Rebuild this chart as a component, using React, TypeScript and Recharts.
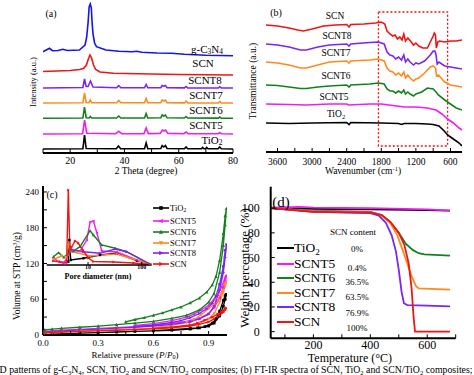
import React from 'react';
import { LineChart, Line, XAxis, YAxis, ReferenceArea } from 'recharts';

const FONT = '"Liberation Serif", "Times New Roman", serif';
const COL = {
  black: '#000000', magenta: '#f21cf2', green: '#14801c', orange: '#ff8a1c',
  purple: '#7b25f2', red: '#f21414', blue: '#1414f0',
};
type P = [number, number][];

// ---------- (a) XRD ----------
const xrdTicks = [10, 20, 30, 40, 50, 60, 70, 80];
const xrdTiO2: P = [[10,4],[24.7,4.3],[25.3,18],[25.9,4.5],[37,4.2],[37.8,7],[38.6,4.2],[47.4,4.2],[48,10],[48.6,4.2],[53.4,4.5],[53.9,7.5],[54.5,6],[55.1,7.5],[55.7,4.5],[62.1,4.2],[62.7,6],[63.3,4.2],[68.4,4.2],[68.8,5.5],[69.3,4.2],[69.9,4.2],[70.3,5.5],[70.8,4.2],[74.5,4.2],[75.1,6],[75.7,4.2],[80,4]];
const xrdSCNT5: P = [[10,19],[24.6,19.3],[25.3,33],[26.1,19.8],[36.8,19.3],[37.9,21.8],[39,19.3],[47.2,19.4],[48,25],[48.8,19.4],[53.2,19.6],[54,23],[54.6,22],[55.2,23],[56,19.6],[61.9,19.3],[62.7,21],[63.5,19.3],[74.5,19.2],[75.1,20.5],[75.8,19.2],[80,19]];
const xrdSCNT6: P = [[10,34.7],[24.7,35],[25.3,46],[25.9,35.3],[27,35],[27.4,36.5],[27.9,35],[37.1,35],[37.9,37],[38.7,35],[47.4,35],[48,39.5],[48.6,35],[53.4,35.2],[53.9,38],[54.5,37],[55.1,38],[55.7,35.2],[62.1,35],[62.7,36.5],[63.3,35],[74.6,34.9],[75.1,36],[75.7,34.9],[80,34.7]];
const xrdSCNT7: P = [[10,50],[24.7,50.3],[25.3,60],[25.9,50.5],[26.9,50.3],[27.4,53],[27.9,50.3],[37.1,50.2],[37.9,52.5],[38.7,50.2],[47.4,50.2],[48,54.5],[48.6,50.2],[53.4,50.3],[53.9,53],[54.5,52],[55.1,53],[55.7,50.3],[62.1,50.1],[62.7,52],[63.3,50.1],[74.6,50],[75.1,51.5],[75.7,50],[80,50]];
const xrdSCNT8: P = [[10,65],[24.7,65.5],[25.3,74],[25.9,66.5],[26.6,66.5],[27.5,72],[28.4,66],[37.1,65.2],[37.9,67.3],[38.7,65.2],[47.4,65.2],[48,68.5],[48.6,65.2],[53.4,65.3],[53.9,67.5],[54.5,66.8],[55.1,67.5],[55.7,65.3],[62.1,65.1],[62.7,66.5],[63.3,65.1],[74.6,65],[75.1,66.3],[75.7,65],[80,65]];
const xrdSCN: P = [[10,81.5],[15,82],[20,82.5],[23.5,83.5],[25,84.7],[26,88],[26.7,94],[27.3,98],[27.9,95],[28.6,88],[29.4,83.5],[31,81],[36,79.8],[45,79.2],[60,78.5],[80,78]];
const xrdGCN: P = [[10,101.3],[12.4,104.7],[13.5,102.3],[15.5,102.5],[17.3,103.7],[19,102.5],[23.4,103],[25.5,108],[26.1,116],[26.6,130],[27,146],[27.4,149],[27.8,145],[28.1,130],[28.4,119.7],[29,110],[29.7,106.3],[33.2,103],[38,101.8],[42.8,101.3],[44.5,101.8],[46.4,100.7],[52,100],[57.3,99.7],[62.1,98.7],[70,97.8],[80,97.3]];

// ---------- (b) FT-IR ----------
const irTicks = [3600, 3300, 3000, 2700, 2400, 2100, 1800, 1500, 1200, 900, 600];
const irMajor = [3600, 3000, 2400, 1800, 1200, 600];
const irSCN: P = [[3800,127],[3600,126],[3400,124],[3250,122],[3150,121],[3000,123],[2800,126],[2600,127],[2400,127.5],[2360,125],[2330,127.5],[2100,128],[1900,129],[1800,130],[1740,128],[1700,121],[1650,118],[1600,116],[1560,117],[1520,113],[1480,115],[1440,112],[1410,118],[1380,111],[1340,114],[1310,112],[1280,110],[1240,107],[1200,109],[1150,106],[1080,104],[1000,104],[950,110],[900,116],[880,119],[860,117],[845,104],[820,110],[790,111],[700,110],[600,111],[500,111],[400,112]];
const irSCNT8: P = [[3800,108],[3600,107],[3400,105],[3200,102],[3100,102],[2900,105],[2700,107],[2400,108],[2360,106],[2330,108],[2000,109.5],[1850,110],[1750,108],[1700,100],[1650,97],[1600,96],[1550,93],[1500,95],[1450,92],[1410,97],[1380,90],[1340,93],[1300,90],[1240,87],[1200,89],[1150,88],[1050,91],[950,97],[900,101],[870,101],[850,97],[830,88],[800,90],[700,86],[600,85],[500,84],[400,83]];
const irSCNT7: P = [[3800,90],[3600,89],[3400,87],[3200,84],[3100,84],[2900,87],[2700,90],[2400,91],[2360,89],[2330,91],[2000,92],[1850,93],[1750,91],[1700,84],[1650,81],[1600,80],[1550,77],[1500,79],[1450,76],[1410,80],[1380,74],[1340,77],[1300,74],[1240,71],[1200,73],[1150,74],[1050,79],[950,85],[900,86],[860,84],[840,76],[810,77],[700,70],[600,67],[500,66],[400,65]];
const irSCNT6: P = [[3800,67],[3600,66.5],[3400,65],[3200,63.5],[3100,63.5],[2900,65],[2700,66],[2400,67],[2360,65],[2330,67],[2000,68],[1850,69],[1750,68],[1700,63],[1650,61],[1600,61],[1550,59],[1500,61],[1450,59],[1410,62],[1380,58],[1340,60],[1300,58],[1240,56],[1200,58],[1100,60],[1000,64],[900,63],[850,60],[810,57],[700,52],[600,48],[500,44],[400,42]];
const irSCNT5: P = [[3800,48],[3400,47.5],[3100,47],[2700,48],[2400,48],[2360,47],[2000,48],[1800,48],[1600,46.5],[1400,45],[1200,45],[1000,44],[850,42],[750,38],[650,33],[550,29],[450,24],[400,22]];
const irTiO2: P = [[3800,29],[3400,28.5],[3000,29],[2400,29.5],[2360,27.5],[2330,29.5],[1800,29],[1500,28.5],[1450,27.5],[1400,28.5],[1200,28.5],[1000,28],[900,27.5],[800,26],[700,20.5],[650,17],[600,15],[500,11],[450,9],[400,6]];

// ---------- (c) BET ----------
const betXTicks = [0, 0.15, 0.3, 0.45, 0.6, 0.75, 0.9];
const betXMajor = [0, 0.3, 0.6, 0.9];
const betYTicks = [0, 30, 60, 90, 120, 150, 180, 210, 240];
const betYMajor = [0, 60, 120, 180, 240];
const isoTiO2: P = [[0.01,1],[0.05,1.5],[0.1,2],[0.2,3],[0.3,4],[0.4,5],[0.5,6],[0.6,7],[0.7,8],[0.8,10],[0.85,12],[0.9,15],[0.93,20],[0.96,32],[0.98,48],[0.99,60],[0.995,68],[0.99,66],[0.98,58],[0.96,40],[0.94,27],[0.92,20],[0.88,14],[0.84,12],[0.8,11],[0.7,9],[0.6,7.5]];
const isoSCNT5: P = [[0.01,6],[0.05,7],[0.1,8],[0.2,9.5],[0.3,11],[0.4,12.5],[0.5,14],[0.6,16],[0.7,19],[0.8,24],[0.85,28],[0.9,36],[0.93,46],[0.96,62],[0.98,80],[0.99,92],[0.997,100],[0.99,97],[0.97,80],[0.95,68],[0.93,60],[0.9,50],[0.86,42],[0.82,35],[0.78,30],[0.7,24],[0.6,19],[0.5,16]];
const isoSCNT6: P = [[0.01,8.5],[0.05,10],[0.1,11],[0.2,13],[0.3,15],[0.4,17.5],[0.5,20],[0.6,23],[0.7,28],[0.78,33],[0.85,42],[0.9,55],[0.93,70],[0.96,105],[0.98,150],[0.99,185],[0.997,212],[0.99,200],[0.98,170],[0.96,125],[0.94,98],[0.92,84],[0.89,72],[0.85,62],[0.8,54],[0.75,47],[0.7,42],[0.65,37],[0.6,33],[0.55,29],[0.5,26],[0.45,22]];
const isoSCNT7: P = [[0.01,3],[0.05,4],[0.1,5],[0.2,6.5],[0.3,8],[0.4,9],[0.5,10],[0.6,11.5],[0.7,13],[0.8,16],[0.85,20],[0.9,27],[0.93,36],[0.96,55],[0.98,72],[0.99,82],[0.997,88],[0.99,86],[0.97,70],[0.95,60],[0.93,52],[0.9,44],[0.86,34],[0.82,26],[0.78,21],[0.7,16],[0.6,12.5]];
const isoSCNT8: P = [[0.01,5],[0.05,6],[0.1,7],[0.2,8.5],[0.3,10],[0.4,11.5],[0.5,13],[0.6,15],[0.7,18],[0.8,22],[0.85,27],[0.9,35],[0.93,48],[0.96,75],[0.98,105],[0.99,130],[0.998,152],[0.99,142],[0.98,115],[0.96,85],[0.94,65],[0.92,53],[0.89,44],[0.85,36],[0.8,29],[0.75,24],[0.7,21],[0.6,17],[0.5,14]];
const isoSCN: P = [[0.01,4],[0.05,4.5],[0.1,5],[0.2,6],[0.3,7],[0.4,8],[0.5,9],[0.6,10.5],[0.7,12],[0.8,15],[0.85,18],[0.9,22],[0.93,27],[0.96,33],[0.98,38],[0.99,42],[0.997,45],[0.99,44],[0.97,39],[0.95,35],[0.92,30],[0.88,25],[0.84,20],[0.8,17],[0.7,13],[0.6,11]];
// inset: pore size distribution
const poreTicks = [10, 100];
const poreTiO2: P = [[4.29,3.3],[4.49,25],[4.76,5],[8.2,6.7],[16.7,10],[34.2,11.7],[81,4.3],[143,0.7]];
const poreSCNT5: P = [[2.26,7.3],[2.83,3.3],[3.53,1.7],[4.29,10],[4.95,15],[7.1,14],[9.46,25],[10.9,43],[12.6,44],[14.6,32],[18,14],[34.2,13],[81,5],[143,0.7]];
const poreSCNT6: P = [[2.26,8.3],[2.83,12.3],[3.53,7.7],[4.29,11.7],[5.35,14],[7.1,18.3],[10.9,34.3],[12.6,30],[18,20],[32,16.7],[52,13.3],[143,0.7]];
const poreSCNT7: P = [[2.26,5.7],[3.2,9],[3.9,7.7],[4.35,20],[4.76,13.3],[6.2,12.3],[10.9,9],[34.2,11],[143,0.7]];
const poreSCNT8: P = [[4.95,15],[8.2,13.3],[16.7,11.7],[32,16],[52,13.3],[143,1]];
const poreSCN: P = [[2.26,4],[3,3.3],[4,2.3],[4.29,75],[4.6,13],[4.95,18],[5.73,24],[6.55,22],[8,15],[10.1,7],[12.6,3.5],[30,3],[70,2],[143,0.5]];

// ---------- (d) TGA ----------
const tgaXTicks = [100, 200, 300, 400, 500, 600, 700];
const tgaXMajor = [200, 400, 600];
const tgaYTicks = [0, 20, 40, 60, 80, 100];
const tgaTiO2: P = [[50,100],[200,99.5],[400,99],[600,98.5],[680,98]];
const tgaSCNT5: P = [[50,100.5],[150,101],[200,100.5],[400,100],[600,99],[680,98]];
const tgaSCNT6: P = [[50,100],[200,98],[400,97],[440,94.5],[470,89],[500,80],[525,71],[550,66],[570,63.5],[590,62.5],[680,61.5]];
const tgaSCNT7: P = [[50,100],[200,97.5],[400,96.5],[440,94],[470,88],[495,78],[515,65],[530,55],[545,45],[560,37],[570,35],[680,34]];
const tgaSCNT8: P = [[50,100],[200,97],[400,96],[430,94],[455,88],[475,78],[490,65],[500,50],[510,32],[518,23],[530,21.5],[600,21],[680,20.5]];
const tgaSCN: P = [[50,100],[200,97],[400,96.5],[440,94.5],[470,89],[500,80],[520,70],[535,55],[545,35],[552,12],[557,0],[680,0]];
const scnContent = ['0%', '0.4%', '36.5%', '63.5%', '76.9%', '100%'];

const pts = (a: P) => a.map(([x, y]) => ({ x, y }));

const tickStyle = (size: number) => ({ fontSize: size, fill: '#000', fontFamily: FONT });
const frame = { stroke: '#000', strokeWidth: 2 };

const Sub = ({ c }: { c: string }) => (
  <span style={{ fontSize: '0.68em', verticalAlign: '-0.25em', lineHeight: 0 }}>{c}</span>
);
const Sup = ({ c }: { c: string }) => (
  <span style={{ fontSize: '0.68em', verticalAlign: '0.45em', lineHeight: 0 }}>{c}</span>
);

const Txt = ({ x, y, size, children, rot, start, bold }: any) => (
  <div
    style={{
      position: 'absolute', left: x, top: y, fontSize: size, fontFamily: FONT,
      whiteSpace: 'nowrap', lineHeight: 1, color: '#000', fontWeight: bold ? 700 : 400,
      transform: `translate(${start ? '0' : '-50%'},-50%)${rot ? ` rotate(${rot}deg)` : ''}`,
    }}
  >
    {children}
  </div>
);

const TiO2 = () => (<>TiO<Sub c="2" /></>);

const marker = (shape: string, color: string, s = 1.6) => (p: any) => {
  const { cx, cy, index } = p;
  if (cx == null || cy == null) return <g key={`n${index}`} />;
  const k = `m${index}`;
  if (shape === 'sq') return <rect key={k} x={cx - s} y={cy - s} width={2 * s} height={2 * s} fill={color} />;
  if (shape === 'up') return <path key={k} d={`M${cx},${cy - s * 1.3}L${cx + s * 1.2},${cy + s}L${cx - s * 1.2},${cy + s}Z`} fill={color} />;
  if (shape === 'down') return <path key={k} d={`M${cx},${cy + s * 1.3}L${cx + s * 1.2},${cy - s}L${cx - s * 1.2},${cy - s}Z`} fill={color} />;
  if (shape === 'left') return <path key={k} d={`M${cx - s * 1.3},${cy}L${cx + s},${cy - s * 1.2}L${cx + s},${cy + s * 1.2}Z`} fill={color} />;
  if (shape === 'right') return <path key={k} d={`M${cx + s * 1.3},${cy}L${cx - s},${cy - s * 1.2}L${cx - s},${cy + s * 1.2}Z`} fill={color} />;
  return <circle key={k} cx={cx} cy={cy} r={s} fill={color} />;
};

const xrdSeries = [
  { d: xrdTiO2, c: COL.black }, { d: xrdSCNT5, c: COL.magenta }, { d: xrdSCNT6, c: COL.green },
  { d: xrdSCNT7, c: COL.orange }, { d: xrdSCNT8, c: COL.purple }, { d: xrdSCN, c: COL.red }, { d: xrdGCN, c: COL.blue },
];
const irSeries = [
  { d: irTiO2, c: COL.black }, { d: irSCNT5, c: COL.magenta }, { d: irSCNT6, c: COL.green },
  { d: irSCNT7, c: COL.orange }, { d: irSCNT8, c: COL.purple }, { d: irSCN, c: COL.red },
];
const betSeries = [
  { d: isoTiO2, p: poreTiO2, c: COL.black, m: 'sq', n: 'TiO2' },
  { d: isoSCNT5, p: poreSCNT5, c: COL.magenta, m: 'left', n: 'SCNT5' },
  { d: isoSCNT6, p: poreSCNT6, c: COL.green, m: 'up', n: 'SCNT6' },
  { d: isoSCNT7, p: poreSCNT7, c: COL.orange, m: 'down', n: 'SCNT7' },
  { d: isoSCNT8, p: poreSCNT8, c: COL.purple, m: 'right', n: 'SCNT8' },
  { d: isoSCN, p: poreSCN, c: COL.red, m: 'right', n: 'SCN' },
];
const tgaSeries = [
  { d: tgaTiO2, c: COL.black, n: 'TiO2' }, { d: tgaSCNT5, c: COL.magenta, n: 'SCNT5' },
  { d: tgaSCNT6, c: COL.green, n: 'SCNT6' }, { d: tgaSCNT7, c: COL.orange, n: 'SCNT7' },
  { d: tgaSCNT8, c: COL.purple, n: 'SCNT8' }, { d: tgaSCN, c: COL.red, n: 'SCN' },
];

const nameNode = (n: string) => (n === 'TiO2' ? <TiO2 /> : n);

export default function App() {
  return (
    <div style={{ position: 'absolute', left: 0, top: 0, width: 474, height: 375, overflow: 'hidden', background: '#fff', fontFamily: FONT }}>
      {/* (a) */}
      <div style={{ position: 'absolute', left: 0, top: 0 }}>
        <LineChart width={240} height={180} margin={{ top: 2, right: 7, bottom: 7, left: 43 }}>
          <XAxis dataKey="x" type="number" domain={[10, 80]} ticks={xrdTicks} allowDataOverflow
            tickFormatter={(v: number) => (v % 20 === 0 ? String(v) : '')}
            height={20} tickSize={-4} tickMargin={8} axisLine={frame} tickLine={{ stroke: '#000' }} tick={tickStyle(10)} />
          <XAxis xAxisId="top" dataKey="x" orientation="top" type="number" domain={[10, 80]} height={0} tick={false} tickLine={false} axisLine={frame} />
          <YAxis type="number" domain={[0, 151]} width={0} tick={false} tickLine={false} axisLine={frame} allowDataOverflow />
          <YAxis yAxisId="r" orientation="right" type="number" domain={[0, 151]} width={0} tick={false} tickLine={false} axisLine={frame} />
          {xrdSeries.map((s, i) => (
            <Line key={i} data={pts(s.d)} dataKey="y" stroke={s.c} strokeWidth={1.6} dot={false} isAnimationActive={false} type="linear" />
          ))}
        </LineChart>
      </div>

      {/* (b) */}
      <div style={{ position: 'absolute', left: 234, top: 0 }}>
        <LineChart width={240} height={180} margin={{ top: 2, right: 12, bottom: 8, left: 32 }}>
          <XAxis dataKey="x" type="number" domain={[400, 3800]} reversed ticks={irTicks} allowDataOverflow
            tickFormatter={(v: number) => (irMajor.includes(v) ? String(v) : '')}
            height={20} tickSize={-4} tickMargin={10} axisLine={frame} tickLine={{ stroke: '#000' }} tick={tickStyle(9.5)} />
          <XAxis xAxisId="top" dataKey="x" orientation="top" type="number" domain={[400, 3800]} reversed ticks={irTicks} height={0} tick={false} tickSize={-4} tickLine={{ stroke: '#000' }} axisLine={frame} />
          <YAxis type="number" domain={[0, 150]} width={0} tick={false} tickLine={false} axisLine={frame} allowDataOverflow />
          <YAxis yAxisId="r" orientation="right" type="number" domain={[0, 150]} width={0} tick={false} tickLine={false} axisLine={frame} />
          <ReferenceArea x1={1850} x2={650} y1={6} y2={140} stroke={COL.red} strokeWidth={1.3} strokeDasharray="2 2" fill="none" fillOpacity={0} />
          {irSeries.map((s, i) => (
            <Line key={i} data={pts(s.d)} dataKey="y" stroke={s.c} strokeWidth={1.6} dot={false} isAnimationActive={false} type="linear" />
          ))}
        </LineChart>
      </div>

      {/* (c) */}
      <div style={{ position: 'absolute', left: 0, top: 180 }}>
        <LineChart width={240} height={195} margin={{ top: 6, right: 13, bottom: 15, left: 0 }}>
          <XAxis dataKey="x" type="number" domain={[0, 1]} ticks={betXTicks} allowDataOverflow
            tickFormatter={(v: number) => (betXMajor.includes(v) ? v.toFixed(1) : '')}
            height={25} tickSize={-4} tickMargin={9} axisLine={frame} tickLine={{ stroke: '#000' }} tick={tickStyle(9)} />
          <XAxis xAxisId="top" dataKey="x" orientation="top" type="number" domain={[0, 1]} height={0} tick={false} tickLine={false} axisLine={frame} />
          <YAxis type="number" domain={[0, 250]} ticks={betYTicks} width={43} allowDataOverflow interval={0}
            tickFormatter={(v: number) => (betYMajor.includes(v) ? String(v) : '')}
            tickSize={-4} tickMargin={8} axisLine={frame} tickLine={{ stroke: '#000' }} tick={tickStyle(9)} />
          <YAxis yAxisId="r" orientation="right" type="number" domain={[0, 250]} width={0} tick={false} tickLine={false} axisLine={frame} />
          {betSeries.map((s, i) => (
            <Line key={i} data={pts(s.d)} dataKey="y" stroke={s.c} strokeWidth={1.3} dot={marker(s.m, s.c, 1.4)} isAnimationActive={false} type="linear" />
          ))}
        </LineChart>
      </div>
      {/* (c) inset */}
      <div style={{ position: 'absolute', left: 40, top: 180 }}>
        <LineChart width={120} height={100} margin={{ top: 6, right: 8.3, bottom: 5, left: 6.7 }}>
          <XAxis dataKey="x" type="number" scale="log" domain={[1.7, 153]} ticks={poreTicks} allowDataOverflow
            height={10} tickSize={-3} tickMargin={3} axisLine={{ stroke: '#000', strokeWidth: 1.5 }} tickLine={{ stroke: '#000' }}
            tick={{ fontSize: 6, fill: '#000', fontFamily: FONT, fontWeight: 700 }} />
          <YAxis type="number" domain={[0, 79]} hide allowDataOverflow />
          {betSeries.map((s, i) => (
            <Line key={i} data={pts(s.p)} dataKey="y" stroke={s.c} strokeWidth={1.4} dot={marker(s.m, s.c, 1.2)} isAnimationActive={false} type="linear" />
          ))}
        </LineChart>
      </div>

      {/* (d) */}
      <div style={{ position: 'absolute', left: 234, top: 180 }}>
        <LineChart width={240} height={195} margin={{ top: 6.7, right: 18.3, bottom: 11.7, left: 0 }}>
          <XAxis dataKey="x" type="number" domain={[50, 700]} ticks={tgaXTicks} allowDataOverflow
            tickFormatter={(v: number) => (tgaXMajor.includes(v) ? String(v) : '')}
            height={25} tickSize={-4} tickMargin={6} axisLine={frame} tickLine={{ stroke: '#000' }} tick={tickStyle(12)} />
          <XAxis xAxisId="top" dataKey="x" orientation="top" type="number" domain={[50, 700]} ticks={tgaXTicks} height={0} tick={false} tickSize={-4} tickLine={{ stroke: '#000' }} axisLine={frame} />
          <YAxis type="number" domain={[-5.4, 117.4]} ticks={tgaYTicks} width={36.7} allowDataOverflow interval={0}
            tickSize={-4} tickMargin={15} axisLine={frame} tickLine={{ stroke: '#000' }} tick={tickStyle(12)} />
          <YAxis yAxisId="r" orientation="right" type="number" domain={[-5.4, 117.4]} width={0} tick={false} tickLine={false} axisLine={frame} />
          {tgaSeries.map((s, i) => (
            <Line key={i} data={pts(s.d)} dataKey="y" stroke={s.c} strokeWidth={1.8} dot={false} isAnimationActive={false} type="linear" />
          ))}
        </LineChart>
      </div>

      {/* text: (a) */}
      <Txt x={51} y={14} size={10}>(a)</Txt>
      <Txt x={207} y={49} size={11}>g-C<Sub c="3" />N<Sub c="4" /></Txt>
      <Txt x={203} y={63} size={11}>SCN</Txt>
      <Txt x={205} y={80} size={11}>SCNT8</Txt>
      <Txt x={206} y={95} size={11}>SCNT7</Txt>
      <Txt x={206} y={110} size={11}>SCNT6</Txt>
      <Txt x={206} y={125} size={11}>SCNT5</Txt>
      <Txt x={212} y={140} size={11}><TiO2 /></Txt>
      <Txt x={33} y={82} size={8.5} rot={-90}>Intensity (a.u.)</Txt>
      <Txt x={146} y={172} size={9.5}>2 Theta (degree)</Txt>

      {/* text: (b) */}
      <Txt x={276} y={13} size={10}>(b)</Txt>
      <Txt x={335} y={17} size={9.5}>SCN</Txt>
      <Txt x={337} y={37} size={9.5}>SCNT8</Txt>
      <Txt x={336} y={54} size={9.5}>SCNT7</Txt>
      <Txt x={336} y={77} size={9.5}>SCNT6</Txt>
      <Txt x={334} y={98} size={9.5}>SCNT5</Txt>
      <Txt x={336} y={115} size={9.5}><TiO2 /></Txt>
      <Txt x={254} y={81} size={9.5} rot={-90}>Transmittance (a.u.)</Txt>
      <Txt x={363} y={172} size={9.5}>Wavenumber (cm<Sup c="-1" />)</Txt>

      {/* text: (c) */}
      <Txt x={52} y={195} size={10}>(c)</Txt>
      <Txt x={18} y={276} size={9.5} rot={-90}>Volume at STP (cm<Sup c="3" />/g)</Txt>
      <Txt x={135} y={355} size={9}>Relative pressure (<i>P</i>/<i>P</i><Sub c="0" />)</Txt>
      <Txt x={98} y={276.5} size={8} bold>Pore diameter (nm)</Txt>
      {betSeries.map((s, i) => {
        const ys = [208, 221, 232, 243, 253, 264];
        return (
          <div key={i} style={{ position: 'absolute', left: 153, top: ys[i] - 4 }}>
            <svg width={17} height={8} style={{ display: 'block' }}>
              <line x1={0} y1={4} x2={16} y2={4} stroke={s.c} strokeWidth={1.6} />
              {marker(s.m, s.c, 1.8)({ cx: 8, cy: 4, index: 0 })}
            </svg>
          </div>
        );
      })}
      {betSeries.map((s, i) => {
        const ys = [208, 221, 232, 243, 253, 264];
        return <Txt key={i} x={170} y={ys[i]} size={8.5} start>{nameNode(s.n)}</Txt>;
      })}

      {/* text: (d) */}
      <Txt x={281} y={202} size={15}>(d)</Txt>
      <Txt x={353} y={232} size={9}>SCN content</Txt>
      {tgaSeries.map((s, i) => {
        const ys = [248, 263.5, 278, 292.5, 307, 321.5];
        const ps = [249, 267.5, 282, 297, 313, 328];
        return (
          <React.Fragment key={i}>
            <div style={{ position: 'absolute', left: 277, top: ys[i] - 1, width: 17, height: 2, background: s.c }} />
            <Txt x={294} y={ys[i]} size={13.5} start>{nameNode(s.n)}</Txt>
            <Txt x={357} y={ps[i]} size={9}>{scnContent[i]}</Txt>
          </React.Fragment>
        );
      })}
      <Txt x={244} y={268} size={13} rot={-90}>Weight percentage (%)</Txt>
      <Txt x={350} y={358} size={12}>Temperature (°C)</Txt>

      {/* caption */}
      <div style={{ position: 'absolute', left: -14, top: 364.5, fontSize: 9.8, fontFamily: FONT, whiteSpace: 'nowrap', lineHeight: 1 }}>
        XRD patterns of g-C<Sub c="3" />N<Sub c="4" />, SCN, TiO<Sub c="2" /> and SCN/TiO<Sub c="2" /> composites; (b) FT-IR spectra of SCN, TiO<Sub c="2" /> and SCN/TiO<Sub c="2" /> composites; (c) N<Sub c="2" /> adsorption
      </div>
    </div>
  );
}
